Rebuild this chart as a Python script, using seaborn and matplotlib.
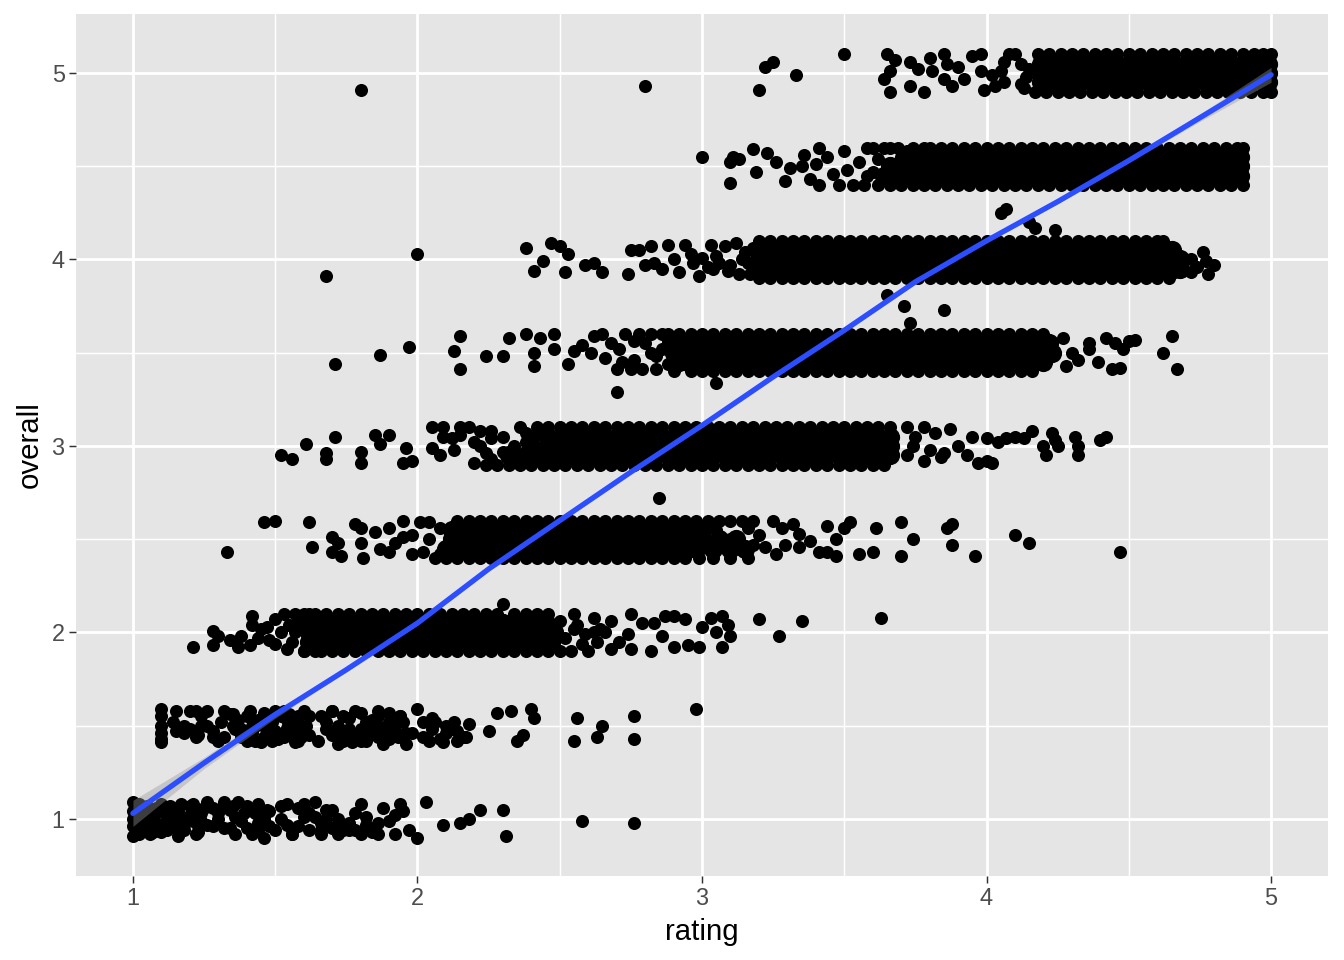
import matplotlib
matplotlib.use("Agg")
import matplotlib.pyplot as plt
import pandas as pd
import seaborn as sns

# x values, one list per row of the band
b5_hi = [4.18,4.22,4.26,4.30,4.34,4.38,4.42,4.46,4.50,4.54,4.58,4.62,4.66,4.70,4.74,4.78,4.82,4.86,4.90,4.94,4.97,5.00]
b5_mid = [4.19,4.23,4.27,4.32,4.37,4.42,4.47,4.52,4.57,4.62,4.67,4.72,4.77,4.82,4.87,4.92,4.97,4.99]
b5_up = [4.19,4.23,4.27,4.30,4.35,4.40,4.45,4.50,4.55,4.60,4.65,4.70,4.75,4.80,4.85,4.90,4.95,4.99]
b5_dn = [4.19,4.23,4.27,4.32,4.37,4.42,4.47,4.52,4.57,4.62,4.67,4.72,4.77,4.82,4.87,4.92,4.97,4.99]
b5_lo = [4.17,4.21,4.25,4.29,4.33,4.37,4.41,4.45,4.49,4.53,4.57,4.61,4.65,4.69,4.73,4.77,4.81,4.85,4.89,4.93,4.97,5.00]

b45_hi = [3.80,3.84,3.88,3.92,3.96,4.00,4.04,4.08,4.12,4.16,4.20,4.24,4.28,4.32,4.36,4.40,4.44,4.48,4.52,4.56,4.60,4.64,4.68,4.72,4.76,4.80,4.84,4.88,4.90]
b45_up = [3.74,3.77,3.82,3.87,3.92,3.97,4.02,4.07,4.12,4.17,4.22,4.27,4.32,4.37,4.42,4.47,4.52,4.57,4.62,4.67,4.72,4.77,4.82,4.87,4.89]
b45_mid = [3.66,3.69,3.74,3.79,3.84,3.89,3.94,3.99,4.04,4.09,4.14,4.19,4.24,4.29,4.34,4.39,4.44,4.49,4.54,4.59,4.64,4.69,4.74,4.79,4.84,4.89]
b45_dn = [3.64,3.67,3.72,3.77,3.82,3.87,3.92,3.97,4.02,4.07,4.12,4.17,4.22,4.27,4.32,4.37,4.42,4.47,4.52,4.57,4.62,4.67,4.72,4.77,4.82,4.87,4.89]
b45_lo = [3.62,3.66,3.70,3.74,3.78,3.82,3.86,3.90,3.94,3.98,4.02,4.06,4.10,4.14,4.18,4.22,4.26,4.30,4.34,4.38,4.42,4.46,4.50,4.54,4.58,4.62,4.66,4.70,4.74,4.78,4.82,4.86,4.90]

b4_hi = [3.20,3.24,3.28,3.32,3.36,3.40,3.44,3.48,3.52,3.56,3.60,3.64,3.68,3.72,3.76,3.80,3.84,3.88,3.92,3.96,4.00,4.04,4.08,4.12,4.16,4.20,4.24,4.28,4.32,4.36,4.40,4.44,4.48,4.52,4.56,4.60,4.62]
b4_up = [3.20,3.23,3.28,3.33,3.38,3.43,3.48,3.53,3.58,3.63,3.68,3.73,3.78,3.83,3.88,3.93,3.98,4.03,4.08,4.13,4.18,4.23,4.28,4.33,4.38,4.43,4.48,4.53,4.58,4.63,4.65]
b4_mid = [3.20,3.23,3.28,3.33,3.38,3.43,3.48,3.53,3.58,3.63,3.68,3.73,3.78,3.83,3.88,3.93,3.98,4.03,4.08,4.13,4.18,4.23,4.28,4.33,4.38,4.43,4.48,4.53,4.58,4.63,4.68]
b4_dn = [3.20,3.21,3.26,3.31,3.36,3.41,3.46,3.51,3.56,3.61,3.66,3.71,3.76,3.81,3.86,3.91,3.96,4.01,4.06,4.11,4.16,4.21,4.26,4.31,4.36,4.41,4.46,4.51,4.56,4.61,4.66,4.68]
b4_lo = [3.20,3.24,3.28,3.32,3.36,3.40,3.44,3.48,3.52,3.56,3.60,3.64,3.68,3.72,3.76,3.80,3.84,3.88,3.92,3.96,4.00,4.04,4.08,4.12,4.16,4.20,4.24,4.28,4.32,4.36,4.40,4.44,4.48,4.52,4.56,4.60,4.64]

b35_hi = [2.88,2.92,2.96,3.00,3.04,3.08,3.12,3.16,3.20,3.24,3.28,3.32,3.36,3.40,3.44,3.48,3.52,3.56,3.60,3.64,3.68,3.72,3.76,3.80,3.84,3.88,3.92,3.96,4.00,4.04,4.08,4.12,4.16,4.20]
b35_up = [2.92,2.95,3.00,3.05,3.10,3.15,3.20,3.25,3.30,3.35,3.40,3.45,3.50,3.55,3.60,3.65,3.70,3.75,3.80,3.85,3.90,3.95,4.00,4.05,4.10,4.15,4.20,4.22]
b35_mid = [2.90,2.93,2.98,3.03,3.08,3.13,3.18,3.23,3.28,3.33,3.38,3.43,3.48,3.53,3.58,3.63,3.68,3.73,3.78,3.83,3.88,3.93,3.98,4.03,4.08,4.13,4.18,4.23]
b35_dn = [2.92,2.95,3.00,3.05,3.10,3.15,3.20,3.25,3.30,3.35,3.40,3.45,3.50,3.55,3.60,3.65,3.70,3.75,3.80,3.85,3.90,3.95,4.00,4.05,4.10,4.15,4.20]
b35_lo = [2.90,2.96,3.00,3.04,3.08,3.12,3.16,3.20,3.24,3.28,3.32,3.36,3.40,3.44,3.48,3.52,3.56,3.60,3.64,3.68,3.72,3.76,3.80,3.84,3.88,3.92,3.96,4.00,4.04,4.08,4.12,4.16]

b3_hi = [2.42,2.46,2.50,2.54,2.58,2.62,2.66,2.70,2.74,2.78,2.82,2.86,2.90,2.94,2.98,3.02,3.06,3.10,3.14,3.18,3.22,3.26,3.30,3.34,3.38,3.42,3.46,3.50,3.54,3.58,3.62,3.66,3.72,3.78]
b3_up = [2.46,2.51,2.56,2.61,2.66,2.71,2.76,2.81,2.86,2.91,2.96,3.01,3.06,3.11,3.16,3.21,3.26,3.31,3.36,3.41,3.46,3.51,3.56,3.61,3.66]
b3_mid = [2.40,2.46,2.51,2.56,2.61,2.66,2.71,2.76,2.81,2.86,2.91,2.96,3.01,3.06,3.11,3.16,3.21,3.26,3.31,3.36,3.41,3.46,3.51,3.56,3.61,3.66]
b3_dn = [2.32,2.38,2.43,2.48,2.53,2.58,2.63,2.68,2.73,2.78,2.83,2.88,2.93,2.98,3.03,3.08,3.13,3.18,3.23,3.28,3.33,3.38,3.43,3.48,3.53,3.58,3.63,3.66]
b3_lo = [2.24,2.28,2.32,2.36,2.40,2.44,2.48,2.52,2.56,2.60,2.64,2.68,2.72,2.76,2.80,2.84,2.88,2.92,2.96,3.00,3.04,3.08,3.12,3.16,3.20,3.24,3.28,3.32,3.36,3.40,3.44,3.48,3.52,3.56,3.60,3.64]

b25_hi = [2.14,2.18,2.22,2.26,2.30,2.34,2.38,2.42,2.46,2.50,2.54,2.58,2.62,2.66,2.70,2.74,2.78,2.82,2.86,2.90,2.94,2.98,3.02,3.06,3.10,3.14,3.18]
b25_up = [2.12,2.16,2.21,2.26,2.31,2.36,2.41,2.46,2.51,2.56,2.61,2.66,2.71,2.76,2.81,2.86,2.91,2.96,3.00]
b25_mid = [2.12,2.16,2.20,2.25,2.30,2.35,2.40,2.45,2.50,2.55,2.60,2.65,2.70,2.75,2.80,2.85,2.90,2.95,3.00,3.06,3.12]
b25_dn = [2.10,2.14,2.18,2.23,2.28,2.33,2.38,2.43,2.48,2.53,2.58,2.63,2.68,2.73,2.78,2.83,2.88,2.93,2.98,3.04,3.10,3.15]
b25_lo = [2.06,2.10,2.14,2.18,2.22,2.26,2.30,2.34,2.38,2.42,2.46,2.50,2.54,2.58,2.62,2.66,2.70,2.74,2.78,2.82,2.86,2.90,2.94,2.99,3.04,3.10,3.16]

b2_hi = [1.60,1.64,1.68,1.72,1.76,1.80,1.84,1.88,1.92,1.96,2.00,2.04,2.08,2.12,2.16,2.20,2.24,2.28,2.34,2.38,2.42,2.46]
b2_up = [1.62,1.65,1.70,1.75,1.80,1.85,1.90,1.95,2.00,2.05,2.10,2.15,2.20,2.25,2.30,2.35,2.40,2.45]
b2_mid = [1.62,1.65,1.70,1.75,1.80,1.85,1.90,1.95,2.00,2.05,2.10,2.15,2.20,2.25,2.30,2.35,2.40,2.45,2.48]
b2_dn = [1.62,1.67,1.72,1.77,1.82,1.87,1.92,1.97,2.02,2.07,2.12,2.17,2.22,2.27,2.32,2.37,2.42,2.47]
b2_lo = [1.60,1.64,1.66,1.70,1.74,1.78,1.82,1.86,1.90,1.94,1.98,2.02,2.06,2.10,2.14,2.18,2.22,2.26,2.30,2.34,2.38,2.42,2.46,2.50]

# scattered points outside the solid parts of the bands
rating_5 = [1.80,2.80,3.20,3.22,3.25,3.33,3.50,3.65,3.68,3.66,3.64,3.66,3.73,3.73,3.78,3.76,3.80,3.81,3.85,3.86,3.85,3.88,3.90,3.92,3.95,3.98,3.98,4.02,3.99,4.03,4.06,4.08,4.05,4.06,4.10,4.12,4.12,4.14,4.15,4.13]
overall_5 = [4.91,4.93,4.91,5.03,5.06,4.99,5.10,5.10,5.07,5.01,4.97,4.90,5.06,4.93,4.90,5.02,5.08,5.01,5.10,5.05,4.97,4.93,5.03,4.97,5.09,5.10,5.01,4.99,4.91,4.93,5.06,5.10,5.01,4.95,5.10,4.94,5.05,4.98,5.02,4.92]

rating_45 = [3.00,3.11,3.10,3.13,3.10,3.18,3.19,3.23,3.26,3.31,3.29,3.36,3.35,3.41,3.44,3.40,3.38,3.41,3.48,3.53,3.57,3.46,3.50,3.58,3.60,3.64,3.69,3.55,3.51,3.60,3.62,3.70,3.58,3.66,3.74,3.78,3.66,3.72]
overall_45 = [4.55,4.55,4.52,4.54,4.41,4.59,4.47,4.57,4.52,4.49,4.42,4.56,4.50,4.60,4.55,4.51,4.43,4.40,4.40,4.40,4.40,4.46,4.58,4.60,4.60,4.60,4.60,4.52,4.48,4.47,4.54,4.55,4.45,4.50,4.60,4.60,4.60,4.58]

rating_between = [4.05,4.07,4.15,4.17,4.24,3.65,3.71,3.85,3.73,2.85,3.05,2.70]
overall_between = [4.25,4.27,4.20,4.17,4.16,3.81,3.75,3.73,3.66,2.72,3.34,3.29]

rating_4 = [1.68,2.00,2.38,2.41,2.47,2.44,2.50,2.53,2.52,2.59,2.62,2.65,2.74,2.75,2.78,2.80,2.82,2.83,2.88,2.86,2.92,2.94,2.97,2.99,3.03,3.04,3.05,3.08,3.10,3.12,3.13,3.15,3.00,3.09,4.72,4.72,4.77,4.78,4.80,4.76,4.74,3.16,3.18,3.14,3.06,3.02,2.96,2.90,3.17]
overall_4 = [3.91,4.03,4.06,3.94,4.09,3.99,4.07,4.03,3.93,3.97,3.98,3.93,3.92,4.05,4.05,3.97,4.07,3.98,4.08,3.95,3.93,4.08,3.98,3.91,4.08,3.95,4.02,4.07,3.97,4.09,3.92,4.04,4.01,3.94,3.93,4.00,3.99,3.92,3.97,4.04,3.96,3.98,4.06,4.00,3.98,3.96,4.03,4.00,3.92]

rating_35 = [1.71,1.87,1.97,2.15,2.13,2.15,2.24,2.30,2.32,2.38,2.41,2.41,2.43,2.48,2.48,2.53,2.55,2.58,2.61,2.62,2.65,2.66,2.70,2.73,2.75,2.79,2.84,2.71,2.76,2.80,2.68,2.76,2.84,4.27,4.30,4.28,4.32,4.36,4.36,4.39,4.42,4.44,4.45,4.47,4.48,4.50,4.52,4.62,4.65,4.67,2.78,2.82,2.86,2.72,2.88,2.86,2.82,2.88]
overall_35 = [3.44,3.49,3.53,3.59,3.51,3.41,3.48,3.48,3.58,3.60,3.50,3.43,3.58,3.60,3.52,3.44,3.51,3.54,3.50,3.59,3.60,3.47,3.41,3.60,3.41,3.41,3.41,3.52,3.46,3.55,3.55,3.56,3.48,3.58,3.50,3.43,3.46,3.52,3.55,3.45,3.58,3.41,3.55,3.42,3.52,3.56,3.57,3.50,3.59,3.41,3.60,3.60,3.60,3.45,3.44,3.52,3.50,3.56]

rating_3 = [1.52,1.56,1.61,1.68,1.68,1.71,1.80,1.80,1.85,1.87,1.90,1.96,1.95,1.98,2.05,2.09,2.05,2.09,2.08,2.13,2.12,2.15,2.15,2.18,2.20,2.22,2.26,2.30,2.34,2.38,2.22,2.26,2.20,2.24,3.72,3.75,3.78,3.82,3.85,3.87,3.90,3.93,3.95,3.97,4.00,4.00,4.02,4.04,4.07,4.10,4.13,4.16,4.20,4.21,4.23,4.24,4.25,4.31,4.32,4.32,4.40,4.42,3.74,3.80,3.84,2.30,2.34,2.38,2.42,2.26,2.36,2.40]
overall_3 = [2.95,2.93,3.01,2.96,2.93,3.05,2.97,2.91,3.06,3.01,3.06,2.99,2.91,2.92,3.10,3.10,2.99,3.05,2.95,2.98,3.04,3.10,3.06,3.10,2.91,3.08,3.08,3.05,3.00,3.07,3.00,2.93,3.02,2.96,2.95,3.05,2.92,3.07,2.96,3.09,3.00,2.95,3.05,2.91,2.92,3.04,2.91,3.02,3.04,3.05,3.04,3.08,3.00,2.95,3.07,3.03,3.00,3.05,3.00,2.95,3.03,3.05,3.00,2.98,2.94,2.97,2.95,3.02,3.06,3.04,3.10,2.96]

rating_25 = [1.33,1.46,1.50,1.62,1.63,1.70,1.70,1.72,1.73,1.78,1.80,1.85,1.80,1.81,1.87,1.90,1.90,1.95,1.95,1.98,2.01,2.04,2.02,2.08,1.92,1.98,2.04,2.08,3.25,3.28,3.32,3.34,3.29,3.34,3.38,3.41,3.44,3.47,3.44,3.47,3.52,3.50,3.55,3.60,3.61,3.70,3.70,3.74,3.86,3.88,3.88,3.96,4.10,4.15,4.47,3.22,3.26,3.20,3.16,3.14,3.05,3.10,3.18]
overall_25 = [2.43,2.59,2.60,2.59,2.46,2.51,2.43,2.48,2.41,2.58,2.56,2.54,2.48,2.40,2.45,2.56,2.43,2.60,2.51,2.42,2.59,2.59,2.43,2.42,2.48,2.52,2.50,2.56,2.60,2.56,2.58,2.53,2.47,2.46,2.49,2.43,2.43,2.41,2.57,2.50,2.59,2.56,2.42,2.43,2.56,2.59,2.41,2.50,2.56,2.58,2.47,2.41,2.52,2.48,2.43,2.46,2.42,2.52,2.56,2.44,2.55,2.50,2.47]

rating_2 = [1.21,1.28,1.28,1.30,1.37,1.38,1.42,1.42,1.41,1.47,1.48,1.53,1.54,1.52,1.57,1.62,1.60,1.55,2.30,2.75,2.79,2.74,2.75,2.83,2.87,2.90,2.94,2.82,2.86,2.90,2.95,2.99,3.00,3.03,3.07,3.09,3.10,3.07,3.05,2.55,2.62,2.68,2.66,2.63,2.71,2.68,2.59,2.54,2.60,2.56,2.64,3.20,3.27,3.35,3.63,1.44,1.50,1.56,1.58,1.45,1.50,1.57,1.34,2.52,2.55,2.58,2.50,2.62]
overall_2 = [1.92,2.01,1.93,1.98,1.92,1.98,2.09,2.04,1.93,2.03,1.96,2.10,1.91,2.00,2.10,2.10,1.90,2.04,2.15,2.10,2.05,1.99,1.91,2.05,2.09,2.09,2.07,1.90,1.98,1.92,1.93,1.92,2.03,2.08,2.09,2.04,1.98,1.92,2.00,2.10,2.08,2.06,2.00,1.95,1.95,1.91,1.99,1.90,1.90,2.04,2.02,2.07,1.98,2.06,2.08,1.97,1.94,1.95,2.05,2.02,2.07,2.00,1.96,1.97,2.02,1.94,2.06,2.00]

rating_15 = [1.10,1.10,1.10,1.10,1.10,1.10,1.15,1.15,1.20,1.22,1.24,1.26,1.18,1.23,1.28,1.30,1.32,1.35,1.31,1.36,1.38,1.41,1.44,1.47,1.40,1.45,1.50,1.53,1.55,1.58,1.49,1.53,1.57,1.60,1.62,1.42,1.46,1.50,1.54,1.58,1.65,1.70,1.72,1.66,1.70,1.74,1.77,1.80,1.83,1.68,1.72,1.76,1.80,1.84,1.86,1.90,1.88,1.93,1.96,2.00,1.86,1.90,1.95,1.98,2.02,2.05,2.09,2.13,2.16,2.04,2.08,2.12,2.18,2.05,2.10,2.14,2.17,2.25,2.28,2.33,2.35,2.37,2.40,2.41,2.56,2.55,2.65,2.63,2.76,2.76,2.98,1.32,1.36,1.62,1.94]
overall_15 = [1.59,1.55,1.50,1.46,1.43,1.41,1.58,1.47,1.58,1.58,1.55,1.58,1.46,1.45,1.47,1.42,1.58,1.56,1.52,1.48,1.44,1.58,1.53,1.55,1.42,1.41,1.47,1.58,1.56,1.52,1.42,1.44,1.41,1.58,1.55,1.50,1.44,1.58,1.49,1.42,1.42,1.45,1.50,1.55,1.58,1.44,1.41,1.57,1.45,1.52,1.40,1.48,1.42,1.53,1.58,1.57,1.40,1.44,1.40,1.59,1.50,1.46,1.52,1.46,1.52,1.48,1.41,1.52,1.44,1.42,1.43,1.48,1.51,1.54,1.46,1.42,1.44,1.47,1.57,1.58,1.42,1.45,1.59,1.54,1.54,1.42,1.50,1.44,1.55,1.43,1.59,1.44,1.50,1.45,1.55]
rating_15b = [1.34,1.37,1.40,1.43,1.46,1.49,1.52,1.55,1.58,1.38,1.42,1.46,1.50,1.54,1.58,1.61,1.35,1.39,1.43,1.47,1.51,1.55,1.59,1.70,1.74,1.78,1.82,1.86,1.90,1.94,1.72,1.76,1.80,1.84,1.88,1.92,1.96,1.74,1.78,1.82,1.86,1.90,1.94,1.68,2.02,2.06,2.10,2.14,1.20,1.24,1.28,1.14,1.18,1.22,1.26]
overall_15b = [1.56,1.53,1.55,1.50,1.57,1.52,1.55,1.50,1.55,1.48,1.46,1.50,1.46,1.53,1.46,1.50,1.50,1.44,1.42,1.44,1.43,1.45,1.44,1.58,1.55,1.58,1.52,1.55,1.52,1.55,1.48,1.54,1.48,1.50,1.47,1.50,1.46,1.42,1.45,1.42,1.44,1.43,1.45,1.48,1.44,1.52,1.50,1.47,1.48,1.50,1.44,1.52,1.50,1.44,1.50]

rating_1 = [1.00,1.00,1.00,1.00,1.00,1.02,1.02,1.02,1.02,1.04,1.04,1.04,1.06,1.06,1.08,1.08,1.10,1.10,1.12,1.14,1.14,1.16,1.16,1.18,1.20,1.22,1.22,1.26,1.28,1.30,1.32,1.34,1.34,1.36,1.40,1.42,1.44,1.44,1.46,1.48,1.50,1.52,1.54,1.56,1.58,1.60,1.62,1.62,1.64,1.66,1.66,1.70,1.72,1.73,1.76,1.78,1.80,1.80,1.82,1.86,1.88,1.90,1.92,1.94,1.95,1.97,2.00,2.03,2.09,2.15,2.18,2.22,2.30,2.31,2.58,2.76,1.68,1.38,1.24,1.16]
overall_1 = [1.09,1.04,1.00,0.96,0.91,1.08,1.02,0.97,0.92,1.06,1.00,0.94,0.92,1.02,0.98,1.06,0.93,1.08,1.00,1.06,0.96,1.02,0.91,0.98,1.07,0.92,1.03,1.09,1.06,1.00,1.09,1.05,0.95,1.01,1.07,0.92,1.08,0.98,0.90,1.04,0.94,1.07,0.97,0.92,0.96,1.08,0.94,1.03,1.09,0.98,0.92,1.05,0.92,0.96,0.94,1.03,1.08,0.92,0.97,0.92,1.06,0.99,0.92,1.08,1.04,0.94,0.90,1.09,0.97,0.98,1.00,1.05,1.05,0.91,0.99,0.98,1.00,0.99,0.99,1.04]
rating_1b = [1.05,1.09,1.13,1.17,1.21,1.25,1.04,1.08,1.12,1.16,1.20,1.24,1.06,1.10,1.14,1.18,1.22,1.26,1.07,1.12,1.18,1.23,1.28,1.32,1.36,1.40,1.44,1.48,1.30,1.35,1.39,1.43,1.47,1.32,1.37,1.42,1.46,1.54,1.58,1.60,1.64,1.68,1.52,1.56,1.66,1.70,1.74,1.78,1.84,1.72,1.76,1.82,1.86,1.92]
overall_1b = [1.07,1.06,1.07,1.08,1.08,1.06,1.02,1.03,1.02,1.01,1.02,1.03,0.98,0.97,0.98,0.97,0.98,0.97,0.93,0.94,0.94,0.93,0.96,0.95,0.92,0.95,0.94,0.96,1.03,1.07,1.03,1.03,1.05,1.08,1.09,1.05,1.00,1.08,1.06,1.01,1.01,1.05,1.00,0.92,0.94,0.95,0.94,0.94,0.93,1.00,0.98,1.01,0.98,1.02]

dense_rows = [
    (5.10, b5_hi), (5.05, b5_up), (5.00, b5_mid), (4.95, b5_dn), (4.90, b5_lo),
    (4.60, b45_hi), (4.55, b45_up), (4.50, b45_mid), (4.45, b45_dn), (4.40, b45_lo),
    (4.10, b4_hi), (4.05, b4_up), (4.00, b4_mid), (3.95, b4_dn), (3.90, b4_lo),
    (3.60, b35_hi), (3.55, b35_up), (3.50, b35_mid), (3.45, b35_dn), (3.40, b35_lo),
    (3.10, b3_hi), (3.05, b3_up), (3.00, b3_mid), (2.95, b3_dn), (2.90, b3_lo),
    (2.60, b25_hi), (2.55, b25_up), (2.50, b25_mid), (2.45, b25_dn), (2.40, b25_lo),
    (2.10, b2_hi), (2.05, b2_up), (2.00, b2_mid), (1.95, b2_dn), (1.90, b2_lo),
]

# smooth line and its ribbon
line_x = [1.00,1.25,1.50,1.75,2.00,2.25,2.50,2.75,3.00,3.25,3.50,3.75,4.00,4.25,4.50,4.75,5.00]
line_y = [1.03,1.30,1.56,1.80,2.05,2.34,2.60,2.86,3.11,3.37,3.62,3.88,4.10,4.31,4.53,4.76,4.99]
ribbon_lo = [0.96,1.27,1.54,1.79,2.04,2.33,2.59,2.85,3.10,3.36,3.61,3.87,4.09,4.30,4.52,4.74,4.95]
ribbon_hi = [1.10,1.33,1.58,1.81,2.06,2.35,2.61,2.87,3.12,3.38,3.63,3.89,4.11,4.32,4.54,4.78,5.03]

major_ticks = [1, 2, 3, 4, 5]
minor_ticks = [1.5, 2.5, 3.5, 4.5]

sns.set_theme(style="darkgrid", rc={"axes.facecolor": "#E5E5E5", "grid.color": "white"})
plt.rcParams["font.family"] = ["Liberation Sans", "DejaVu Sans"]

fig = plt.figure(figsize=(7, 5), dpi=192)
ax = fig.add_axes([76 / 1344, 1 - 876 / 960, (1328 - 76) / 1344, (876 - 14) / 960])

outer_rows = dense_rows[0::5] + dense_rows[4::5]
inner_rows = [r for r in dense_rows if r not in outer_rows]

outer = pd.DataFrame({"rating": [x for _, xs in outer_rows for x in xs],
                      "overall": [y for y, xs in outer_rows for _ in xs]})
inner = pd.DataFrame({"rating": [x for _, xs in inner_rows for x in xs],
                      "overall": [y for y, xs in inner_rows for _ in xs]})
sparse = pd.DataFrame({
    "rating": rating_5 + rating_45 + rating_between + rating_4 + rating_35 + rating_3 + rating_25 + rating_2 + rating_15 + rating_15b + rating_1 + rating_1b,
    "overall": overall_5 + overall_45 + overall_between + overall_4 + overall_35 + overall_3 + overall_25 + overall_2 + overall_15 + overall_15b + overall_1 + overall_1b,
})

# the inner rows are merged blobs in the reference, bigger dots close the gaps
sns.scatterplot(data=inner, x="rating", y="overall", color="black", s=52, linewidth=0, ax=ax, zorder=3)
sns.scatterplot(data=outer, x="rating", y="overall", color="black", s=24, linewidth=0, ax=ax, zorder=3)
sns.scatterplot(data=sparse, x="rating", y="overall", color="black", s=24, linewidth=0, ax=ax, zorder=3)

ax.fill_between(line_x, ribbon_lo, ribbon_hi, color="#999999", alpha=0.4, linewidth=0, zorder=4)
sns.lineplot(x=line_x, y=line_y, color="#2C4EFF", linewidth=2.0, ax=ax, zorder=5)

ax.set_xlim(0.8, 5.2)
ax.set_ylim(0.694, 5.316)
ax.set_xticks(major_ticks)
ax.set_yticks(major_ticks)
ax.set_xticks(minor_ticks, minor=True)
ax.set_yticks(minor_ticks, minor=True)
ax.grid(which="major", color="white", linewidth=1.05)
ax.grid(which="minor", color="white", linewidth=0.55)
ax.tick_params(which="major", length=2.75, width=0.55, color="#333333", labelcolor="#4D4D4D", labelsize=8.8, pad=1.5, left=True, bottom=True)
ax.tick_params(which="minor", length=0, left=False, bottom=False)
ax.set_xlabel("rating", fontsize=11, color="black", labelpad=3)
ax.set_ylabel("overall", fontsize=11, color="black", labelpad=3)
for s in ax.spines.values():
    s.set_visible(False)

fig.savefig("out.png", dpi=192)
